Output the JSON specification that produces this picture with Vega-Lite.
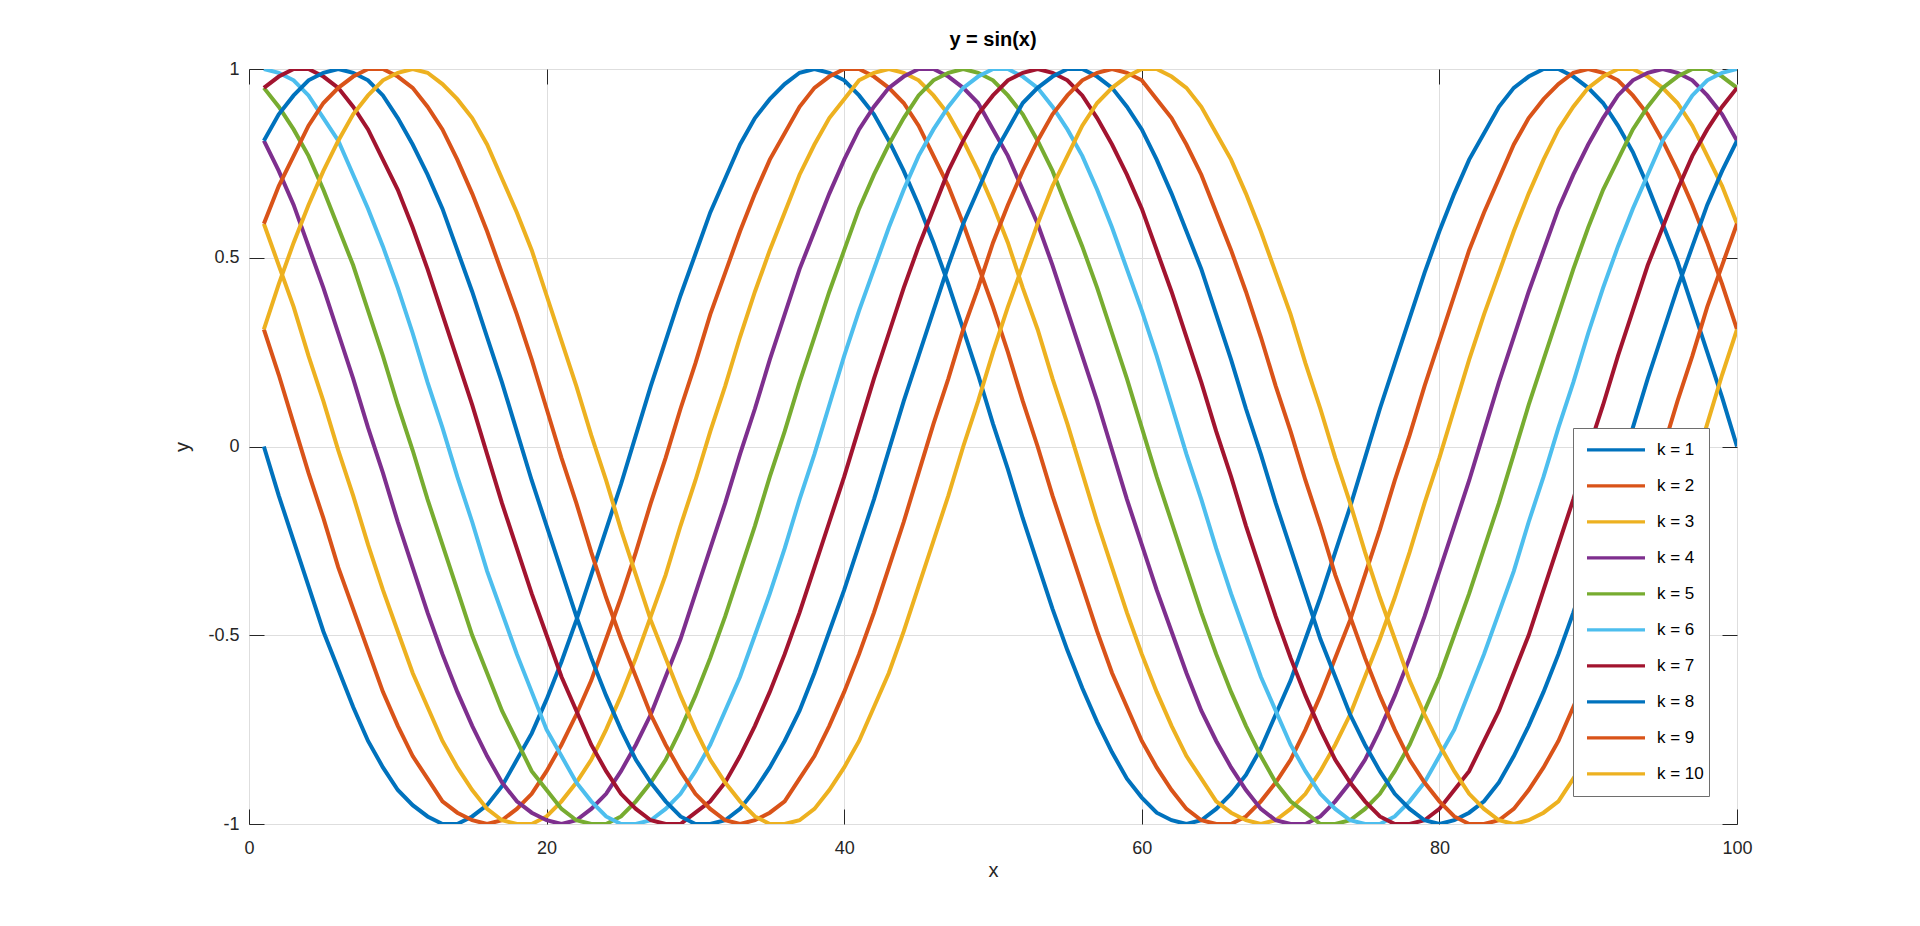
{
  "$schema": "https://vega.github.io/schema/vega-lite/v6.json",
  "width": 1488,
  "height": 755,
  "autosize": {"type": "none"},
  "padding": {"left": 249, "top": 69, "right": 183, "bottom": 102},
  "background": "#ffffff",
  "title": {"text": "y = sin(x)", "font": "Liberation Sans", "fontSize": 20, "fontWeight": "bold", "color": "#000000", "anchor": "middle", "frame": "group", "baseline": "alphabetic", "offset": 24, "dy": 30},
  "config": {"view": {"stroke": "#262626", "strokeWidth": 1}, "font": "Liberation Sans"},
  "data": {"values": [
{"k":1,"x":1,"y":0},{"k":1,"x":2,"y":-0.13},{"k":1,"x":3,"y":-0.25},{"k":1,"x":4,"y":-0.37},{"k":1,"x":5,"y":-0.49},{"k":1,"x":6,"y":-0.59},{"k":1,"x":7,"y":-0.69},{"k":1,"x":8,"y":-0.78},{"k":1,"x":9,"y":-0.85},{"k":1,"x":10,"y":-0.91},
{"k":1,"x":11,"y":-0.95},{"k":1,"x":12,"y":-0.98},{"k":1,"x":13,"y":-1},{"k":1,"x":14,"y":-1},{"k":1,"x":15,"y":-0.98},{"k":1,"x":16,"y":-0.95},{"k":1,"x":17,"y":-0.9},{"k":1,"x":18,"y":-0.83},{"k":1,"x":19,"y":-0.76},{"k":1,"x":20,"y":-0.67},
{"k":1,"x":21,"y":-0.57},{"k":1,"x":22,"y":-0.46},{"k":1,"x":23,"y":-0.34},{"k":1,"x":24,"y":-0.22},{"k":1,"x":25,"y":-0.1},{"k":1,"x":26,"y":0.03},{"k":1,"x":27,"y":0.16},{"k":1,"x":28,"y":0.28},{"k":1,"x":29,"y":0.4},{"k":1,"x":30,"y":0.51},
{"k":1,"x":31,"y":0.62},{"k":1,"x":32,"y":0.71},{"k":1,"x":33,"y":0.8},{"k":1,"x":34,"y":0.87},{"k":1,"x":35,"y":0.92},{"k":1,"x":36,"y":0.96},{"k":1,"x":37,"y":0.99},{"k":1,"x":38,"y":1},{"k":1,"x":39,"y":0.99},{"k":1,"x":40,"y":0.97},
{"k":1,"x":41,"y":0.93},{"k":1,"x":42,"y":0.88},{"k":1,"x":43,"y":0.81},{"k":1,"x":44,"y":0.73},{"k":1,"x":45,"y":0.64},{"k":1,"x":46,"y":0.54},{"k":1,"x":47,"y":0.43},{"k":1,"x":48,"y":0.31},{"k":1,"x":49,"y":0.19},{"k":1,"x":50,"y":0.06},
{"k":1,"x":51,"y":-0.06},{"k":1,"x":52,"y":-0.19},{"k":1,"x":53,"y":-0.31},{"k":1,"x":54,"y":-0.43},{"k":1,"x":55,"y":-0.54},{"k":1,"x":56,"y":-0.64},{"k":1,"x":57,"y":-0.73},{"k":1,"x":58,"y":-0.81},{"k":1,"x":59,"y":-0.88},{"k":1,"x":60,"y":-0.93},
{"k":1,"x":61,"y":-0.97},{"k":1,"x":62,"y":-0.99},{"k":1,"x":63,"y":-1},{"k":1,"x":64,"y":-0.99},{"k":1,"x":65,"y":-0.96},{"k":1,"x":66,"y":-0.92},{"k":1,"x":67,"y":-0.87},{"k":1,"x":68,"y":-0.8},{"k":1,"x":69,"y":-0.71},{"k":1,"x":70,"y":-0.62},
{"k":1,"x":71,"y":-0.51},{"k":1,"x":72,"y":-0.4},{"k":1,"x":73,"y":-0.28},{"k":1,"x":74,"y":-0.16},{"k":1,"x":75,"y":-0.03},{"k":1,"x":76,"y":0.1},{"k":1,"x":77,"y":0.22},{"k":1,"x":78,"y":0.34},{"k":1,"x":79,"y":0.46},{"k":1,"x":80,"y":0.57},
{"k":1,"x":81,"y":0.67},{"k":1,"x":82,"y":0.76},{"k":1,"x":83,"y":0.83},{"k":1,"x":84,"y":0.9},{"k":1,"x":85,"y":0.95},{"k":1,"x":86,"y":0.98},{"k":1,"x":87,"y":1},{"k":1,"x":88,"y":1},{"k":1,"x":89,"y":0.98},{"k":1,"x":90,"y":0.95},
{"k":1,"x":91,"y":0.91},{"k":1,"x":92,"y":0.85},{"k":1,"x":93,"y":0.78},{"k":1,"x":94,"y":0.69},{"k":1,"x":95,"y":0.59},{"k":1,"x":96,"y":0.49},{"k":1,"x":97,"y":0.37},{"k":1,"x":98,"y":0.25},{"k":1,"x":99,"y":0.13},{"k":1,"x":100,"y":0},
{"k":2,"x":1,"y":0.31},{"k":2,"x":2,"y":0.19},{"k":2,"x":3,"y":0.06},{"k":2,"x":4,"y":-0.07},{"k":2,"x":5,"y":-0.19},{"k":2,"x":6,"y":-0.32},{"k":2,"x":7,"y":-0.43},{"k":2,"x":8,"y":-0.54},{"k":2,"x":9,"y":-0.65},{"k":2,"x":10,"y":-0.74},
{"k":2,"x":11,"y":-0.82},{"k":2,"x":12,"y":-0.88},{"k":2,"x":13,"y":-0.94},{"k":2,"x":14,"y":-0.97},{"k":2,"x":15,"y":-0.99},{"k":2,"x":16,"y":-1},{"k":2,"x":17,"y":-0.99},{"k":2,"x":18,"y":-0.96},{"k":2,"x":19,"y":-0.92},{"k":2,"x":20,"y":-0.86},
{"k":2,"x":21,"y":-0.79},{"k":2,"x":22,"y":-0.71},{"k":2,"x":23,"y":-0.62},{"k":2,"x":24,"y":-0.51},{"k":2,"x":25,"y":-0.4},{"k":2,"x":26,"y":-0.28},{"k":2,"x":27,"y":-0.15},{"k":2,"x":28,"y":-0.03},{"k":2,"x":29,"y":0.1},{"k":2,"x":30,"y":0.22},
{"k":2,"x":31,"y":0.35},{"k":2,"x":32,"y":0.46},{"k":2,"x":33,"y":0.57},{"k":2,"x":34,"y":0.67},{"k":2,"x":35,"y":0.76},{"k":2,"x":36,"y":0.83},{"k":2,"x":37,"y":0.9},{"k":2,"x":38,"y":0.95},{"k":2,"x":39,"y":0.98},{"k":2,"x":40,"y":1},
{"k":2,"x":41,"y":1},{"k":2,"x":42,"y":0.98},{"k":2,"x":43,"y":0.95},{"k":2,"x":44,"y":0.91},{"k":2,"x":45,"y":0.85},{"k":2,"x":46,"y":0.77},{"k":2,"x":47,"y":0.69},{"k":2,"x":48,"y":0.59},{"k":2,"x":49,"y":0.48},{"k":2,"x":50,"y":0.37},
{"k":2,"x":51,"y":0.25},{"k":2,"x":52,"y":0.12},{"k":2,"x":53,"y":0},{"k":2,"x":54,"y":-0.13},{"k":2,"x":55,"y":-0.25},{"k":2,"x":56,"y":-0.37},{"k":2,"x":57,"y":-0.49},{"k":2,"x":58,"y":-0.6},{"k":2,"x":59,"y":-0.69},{"k":2,"x":60,"y":-0.78},
{"k":2,"x":61,"y":-0.85},{"k":2,"x":62,"y":-0.91},{"k":2,"x":63,"y":-0.96},{"k":2,"x":64,"y":-0.99},{"k":2,"x":65,"y":-1},{"k":2,"x":66,"y":-1},{"k":2,"x":67,"y":-0.98},{"k":2,"x":68,"y":-0.94},{"k":2,"x":69,"y":-0.89},{"k":2,"x":70,"y":-0.83},
{"k":2,"x":71,"y":-0.75},{"k":2,"x":72,"y":-0.66},{"k":2,"x":73,"y":-0.56},{"k":2,"x":74,"y":-0.46},{"k":2,"x":75,"y":-0.34},{"k":2,"x":76,"y":-0.22},{"k":2,"x":77,"y":-0.09},{"k":2,"x":78,"y":0.03},{"k":2,"x":79,"y":0.16},{"k":2,"x":80,"y":0.28},
{"k":2,"x":81,"y":0.4},{"k":2,"x":82,"y":0.52},{"k":2,"x":83,"y":0.62},{"k":2,"x":84,"y":0.71},{"k":2,"x":85,"y":0.8},{"k":2,"x":86,"y":0.87},{"k":2,"x":87,"y":0.92},{"k":2,"x":88,"y":0.96},{"k":2,"x":89,"y":0.99},{"k":2,"x":90,"y":1},
{"k":2,"x":91,"y":0.99},{"k":2,"x":92,"y":0.97},{"k":2,"x":93,"y":0.93},{"k":2,"x":94,"y":0.88},{"k":2,"x":95,"y":0.81},{"k":2,"x":96,"y":0.73},{"k":2,"x":97,"y":0.64},{"k":2,"x":98,"y":0.54},{"k":2,"x":99,"y":0.43},{"k":2,"x":100,"y":0.31},
{"k":3,"x":1,"y":0.59},{"k":3,"x":2,"y":0.48},{"k":3,"x":3,"y":0.37},{"k":3,"x":4,"y":0.24},{"k":3,"x":5,"y":0.12},{"k":3,"x":6,"y":-0.01},{"k":3,"x":7,"y":-0.13},{"k":3,"x":8,"y":-0.26},{"k":3,"x":9,"y":-0.38},{"k":3,"x":10,"y":-0.49},
{"k":3,"x":11,"y":-0.6},{"k":3,"x":12,"y":-0.69},{"k":3,"x":13,"y":-0.78},{"k":3,"x":14,"y":-0.85},{"k":3,"x":15,"y":-0.91},{"k":3,"x":16,"y":-0.96},{"k":3,"x":17,"y":-0.99},{"k":3,"x":18,"y":-1},{"k":3,"x":19,"y":-1},{"k":3,"x":20,"y":-0.98},
{"k":3,"x":21,"y":-0.94},{"k":3,"x":22,"y":-0.89},{"k":3,"x":23,"y":-0.83},{"k":3,"x":24,"y":-0.75},{"k":3,"x":25,"y":-0.66},{"k":3,"x":26,"y":-0.56},{"k":3,"x":27,"y":-0.45},{"k":3,"x":28,"y":-0.34},{"k":3,"x":29,"y":-0.21},{"k":3,"x":30,"y":-0.09},
{"k":3,"x":31,"y":0.04},{"k":3,"x":32,"y":0.16},{"k":3,"x":33,"y":0.29},{"k":3,"x":34,"y":0.41},{"k":3,"x":35,"y":0.52},{"k":3,"x":36,"y":0.62},{"k":3,"x":37,"y":0.72},{"k":3,"x":38,"y":0.8},{"k":3,"x":39,"y":0.87},{"k":3,"x":40,"y":0.92},
{"k":3,"x":41,"y":0.97},{"k":3,"x":42,"y":0.99},{"k":3,"x":43,"y":1},{"k":3,"x":44,"y":0.99},{"k":3,"x":45,"y":0.97},{"k":3,"x":46,"y":0.93},{"k":3,"x":47,"y":0.88},{"k":3,"x":48,"y":0.81},{"k":3,"x":49,"y":0.73},{"k":3,"x":50,"y":0.64},
{"k":3,"x":51,"y":0.54},{"k":3,"x":52,"y":0.42},{"k":3,"x":53,"y":0.31},{"k":3,"x":54,"y":0.18},{"k":3,"x":55,"y":0.06},{"k":3,"x":56,"y":-0.07},{"k":3,"x":57,"y":-0.2},{"k":3,"x":58,"y":-0.32},{"k":3,"x":59,"y":-0.44},{"k":3,"x":60,"y":-0.55},
{"k":3,"x":61,"y":-0.65},{"k":3,"x":62,"y":-0.74},{"k":3,"x":63,"y":-0.82},{"k":3,"x":64,"y":-0.88},{"k":3,"x":65,"y":-0.94},{"k":3,"x":66,"y":-0.97},{"k":3,"x":67,"y":-0.99},{"k":3,"x":68,"y":-1},{"k":3,"x":69,"y":-0.99},{"k":3,"x":70,"y":-0.96},
{"k":3,"x":71,"y":-0.92},{"k":3,"x":72,"y":-0.86},{"k":3,"x":73,"y":-0.79},{"k":3,"x":74,"y":-0.71},{"k":3,"x":75,"y":-0.61},{"k":3,"x":76,"y":-0.51},{"k":3,"x":77,"y":-0.4},{"k":3,"x":78,"y":-0.28},{"k":3,"x":79,"y":-0.15},{"k":3,"x":80,"y":-0.03},
{"k":3,"x":81,"y":0.1},{"k":3,"x":82,"y":0.23},{"k":3,"x":83,"y":0.35},{"k":3,"x":84,"y":0.46},{"k":3,"x":85,"y":0.57},{"k":3,"x":86,"y":0.67},{"k":3,"x":87,"y":0.76},{"k":3,"x":88,"y":0.84},{"k":3,"x":89,"y":0.9},{"k":3,"x":90,"y":0.95},
{"k":3,"x":91,"y":0.98},{"k":3,"x":92,"y":1},{"k":3,"x":93,"y":1},{"k":3,"x":94,"y":0.98},{"k":3,"x":95,"y":0.95},{"k":3,"x":96,"y":0.91},{"k":3,"x":97,"y":0.85},{"k":3,"x":98,"y":0.77},{"k":3,"x":99,"y":0.69},{"k":3,"x":100,"y":0.59},
{"k":4,"x":1,"y":0.81},{"k":4,"x":2,"y":0.73},{"k":4,"x":3,"y":0.64},{"k":4,"x":4,"y":0.53},{"k":4,"x":5,"y":0.42},{"k":4,"x":6,"y":0.3},{"k":4,"x":7,"y":0.18},{"k":4,"x":8,"y":0.05},{"k":4,"x":9,"y":-0.07},{"k":4,"x":10,"y":-0.2},
{"k":4,"x":11,"y":-0.32},{"k":4,"x":12,"y":-0.44},{"k":4,"x":13,"y":-0.55},{"k":4,"x":14,"y":-0.65},{"k":4,"x":15,"y":-0.74},{"k":4,"x":16,"y":-0.82},{"k":4,"x":17,"y":-0.89},{"k":4,"x":18,"y":-0.94},{"k":4,"x":19,"y":-0.97},{"k":4,"x":20,"y":-0.99},
{"k":4,"x":21,"y":-1},{"k":4,"x":22,"y":-0.99},{"k":4,"x":23,"y":-0.96},{"k":4,"x":24,"y":-0.92},{"k":4,"x":25,"y":-0.86},{"k":4,"x":26,"y":-0.79},{"k":4,"x":27,"y":-0.71},{"k":4,"x":28,"y":-0.61},{"k":4,"x":29,"y":-0.51},{"k":4,"x":30,"y":-0.39},
{"k":4,"x":31,"y":-0.27},{"k":4,"x":32,"y":-0.15},{"k":4,"x":33,"y":-0.02},{"k":4,"x":34,"y":0.1},{"k":4,"x":35,"y":0.23},{"k":4,"x":36,"y":0.35},{"k":4,"x":37,"y":0.47},{"k":4,"x":38,"y":0.57},{"k":4,"x":39,"y":0.67},{"k":4,"x":40,"y":0.76},
{"k":4,"x":41,"y":0.84},{"k":4,"x":42,"y":0.9},{"k":4,"x":43,"y":0.95},{"k":4,"x":44,"y":0.98},{"k":4,"x":45,"y":1},{"k":4,"x":46,"y":1},{"k":4,"x":47,"y":0.98},{"k":4,"x":48,"y":0.95},{"k":4,"x":49,"y":0.91},{"k":4,"x":50,"y":0.84},
{"k":4,"x":51,"y":0.77},{"k":4,"x":52,"y":0.68},{"k":4,"x":53,"y":0.59},{"k":4,"x":54,"y":0.48},{"k":4,"x":55,"y":0.36},{"k":4,"x":56,"y":0.24},{"k":4,"x":57,"y":0.12},{"k":4,"x":58,"y":-0.01},{"k":4,"x":59,"y":-0.14},{"k":4,"x":60,"y":-0.26},
{"k":4,"x":61,"y":-0.38},{"k":4,"x":62,"y":-0.49},{"k":4,"x":63,"y":-0.6},{"k":4,"x":64,"y":-0.7},{"k":4,"x":65,"y":-0.78},{"k":4,"x":66,"y":-0.85},{"k":4,"x":67,"y":-0.91},{"k":4,"x":68,"y":-0.96},{"k":4,"x":69,"y":-0.99},{"k":4,"x":70,"y":-1},
{"k":4,"x":71,"y":-1},{"k":4,"x":72,"y":-0.98},{"k":4,"x":73,"y":-0.94},{"k":4,"x":74,"y":-0.89},{"k":4,"x":75,"y":-0.83},{"k":4,"x":76,"y":-0.75},{"k":4,"x":77,"y":-0.66},{"k":4,"x":78,"y":-0.56},{"k":4,"x":79,"y":-0.45},{"k":4,"x":80,"y":-0.33},
{"k":4,"x":81,"y":-0.21},{"k":4,"x":82,"y":-0.09},{"k":4,"x":83,"y":0.04},{"k":4,"x":84,"y":0.17},{"k":4,"x":85,"y":0.29},{"k":4,"x":86,"y":0.41},{"k":4,"x":87,"y":0.52},{"k":4,"x":88,"y":0.63},{"k":4,"x":89,"y":0.72},{"k":4,"x":90,"y":0.8},
{"k":4,"x":91,"y":0.87},{"k":4,"x":92,"y":0.93},{"k":4,"x":93,"y":0.97},{"k":4,"x":94,"y":0.99},{"k":4,"x":95,"y":1},{"k":4,"x":96,"y":0.99},{"k":4,"x":97,"y":0.97},{"k":4,"x":98,"y":0.93},{"k":4,"x":99,"y":0.88},{"k":4,"x":100,"y":0.81},
{"k":5,"x":1,"y":0.95},{"k":5,"x":2,"y":0.9},{"k":5,"x":3,"y":0.84},{"k":5,"x":4,"y":0.77},{"k":5,"x":5,"y":0.68},{"k":5,"x":6,"y":0.58},{"k":5,"x":7,"y":0.48},{"k":5,"x":8,"y":0.36},{"k":5,"x":9,"y":0.24},{"k":5,"x":10,"y":0.11},
{"k":5,"x":11,"y":-0.01},{"k":5,"x":12,"y":-0.14},{"k":5,"x":13,"y":-0.26},{"k":5,"x":14,"y":-0.38},{"k":5,"x":15,"y":-0.5},{"k":5,"x":16,"y":-0.6},{"k":5,"x":17,"y":-0.7},{"k":5,"x":18,"y":-0.78},{"k":5,"x":19,"y":-0.86},{"k":5,"x":20,"y":-0.91},
{"k":5,"x":21,"y":-0.96},{"k":5,"x":22,"y":-0.99},{"k":5,"x":23,"y":-1},{"k":5,"x":24,"y":-1},{"k":5,"x":25,"y":-0.98},{"k":5,"x":26,"y":-0.94},{"k":5,"x":27,"y":-0.89},{"k":5,"x":28,"y":-0.83},{"k":5,"x":29,"y":-0.75},{"k":5,"x":30,"y":-0.66},
{"k":5,"x":31,"y":-0.56},{"k":5,"x":32,"y":-0.45},{"k":5,"x":33,"y":-0.33},{"k":5,"x":34,"y":-0.21},{"k":5,"x":35,"y":-0.08},{"k":5,"x":36,"y":0.04},{"k":5,"x":37,"y":0.17},{"k":5,"x":38,"y":0.29},{"k":5,"x":39,"y":0.41},{"k":5,"x":40,"y":0.52},
{"k":5,"x":41,"y":0.63},{"k":5,"x":42,"y":0.72},{"k":5,"x":43,"y":0.8},{"k":5,"x":44,"y":0.87},{"k":5,"x":45,"y":0.93},{"k":5,"x":46,"y":0.97},{"k":5,"x":47,"y":0.99},{"k":5,"x":48,"y":1},{"k":5,"x":49,"y":0.99},{"k":5,"x":50,"y":0.97},
{"k":5,"x":51,"y":0.93},{"k":5,"x":52,"y":0.88},{"k":5,"x":53,"y":0.81},{"k":5,"x":54,"y":0.73},{"k":5,"x":55,"y":0.63},{"k":5,"x":56,"y":0.53},{"k":5,"x":57,"y":0.42},{"k":5,"x":58,"y":0.3},{"k":5,"x":59,"y":0.18},{"k":5,"x":60,"y":0.05},
{"k":5,"x":61,"y":-0.08},{"k":5,"x":62,"y":-0.2},{"k":5,"x":63,"y":-0.32},{"k":5,"x":64,"y":-0.44},{"k":5,"x":65,"y":-0.55},{"k":5,"x":66,"y":-0.65},{"k":5,"x":67,"y":-0.74},{"k":5,"x":68,"y":-0.82},{"k":5,"x":69,"y":-0.89},{"k":5,"x":70,"y":-0.94},
{"k":5,"x":71,"y":-0.97},{"k":5,"x":72,"y":-1},{"k":5,"x":73,"y":-1},{"k":5,"x":74,"y":-0.99},{"k":5,"x":75,"y":-0.96},{"k":5,"x":76,"y":-0.92},{"k":5,"x":77,"y":-0.86},{"k":5,"x":78,"y":-0.79},{"k":5,"x":79,"y":-0.7},{"k":5,"x":80,"y":-0.61},
{"k":5,"x":81,"y":-0.5},{"k":5,"x":82,"y":-0.39},{"k":5,"x":83,"y":-0.27},{"k":5,"x":84,"y":-0.15},{"k":5,"x":85,"y":-0.02},{"k":5,"x":86,"y":0.11},{"k":5,"x":87,"y":0.23},{"k":5,"x":88,"y":0.35},{"k":5,"x":89,"y":0.47},{"k":5,"x":90,"y":0.58},
{"k":5,"x":91,"y":0.68},{"k":5,"x":92,"y":0.76},{"k":5,"x":93,"y":0.84},{"k":5,"x":94,"y":0.9},{"k":5,"x":95,"y":0.95},{"k":5,"x":96,"y":0.98},{"k":5,"x":97,"y":1},{"k":5,"x":98,"y":1},{"k":5,"x":99,"y":0.98},{"k":5,"x":100,"y":0.95},
{"k":6,"x":1,"y":1},{"k":6,"x":2,"y":0.99},{"k":6,"x":3,"y":0.97},{"k":6,"x":4,"y":0.93},{"k":6,"x":5,"y":0.87},{"k":6,"x":6,"y":0.81},{"k":6,"x":7,"y":0.72},{"k":6,"x":8,"y":0.63},{"k":6,"x":9,"y":0.53},{"k":6,"x":10,"y":0.42},
{"k":6,"x":11,"y":0.3},{"k":6,"x":12,"y":0.17},{"k":6,"x":13,"y":0.05},{"k":6,"x":14,"y":-0.08},{"k":6,"x":15,"y":-0.2},{"k":6,"x":16,"y":-0.33},{"k":6,"x":17,"y":-0.44},{"k":6,"x":18,"y":-0.55},{"k":6,"x":19,"y":-0.65},{"k":6,"x":20,"y":-0.75},
{"k":6,"x":21,"y":-0.82},{"k":6,"x":22,"y":-0.89},{"k":6,"x":23,"y":-0.94},{"k":6,"x":24,"y":-0.98},{"k":6,"x":25,"y":-1},{"k":6,"x":26,"y":-1},{"k":6,"x":27,"y":-0.99},{"k":6,"x":28,"y":-0.96},{"k":6,"x":29,"y":-0.92},{"k":6,"x":30,"y":-0.86},
{"k":6,"x":31,"y":-0.79},{"k":6,"x":32,"y":-0.7},{"k":6,"x":33,"y":-0.61},{"k":6,"x":34,"y":-0.5},{"k":6,"x":35,"y":-0.39},{"k":6,"x":36,"y":-0.27},{"k":6,"x":37,"y":-0.14},{"k":6,"x":38,"y":-0.02},{"k":6,"x":39,"y":0.11},{"k":6,"x":40,"y":0.24},
{"k":6,"x":41,"y":0.36},{"k":6,"x":42,"y":0.47},{"k":6,"x":43,"y":0.58},{"k":6,"x":44,"y":0.68},{"k":6,"x":45,"y":0.77},{"k":6,"x":46,"y":0.84},{"k":6,"x":47,"y":0.9},{"k":6,"x":48,"y":0.95},{"k":6,"x":49,"y":0.98},{"k":6,"x":50,"y":1},
{"k":6,"x":51,"y":1},{"k":6,"x":52,"y":0.98},{"k":6,"x":53,"y":0.95},{"k":6,"x":54,"y":0.9},{"k":6,"x":55,"y":0.84},{"k":6,"x":56,"y":0.77},{"k":6,"x":57,"y":0.68},{"k":6,"x":58,"y":0.58},{"k":6,"x":59,"y":0.47},{"k":6,"x":60,"y":0.36},
{"k":6,"x":61,"y":0.24},{"k":6,"x":62,"y":0.11},{"k":6,"x":63,"y":-0.02},{"k":6,"x":64,"y":-0.14},{"k":6,"x":65,"y":-0.27},{"k":6,"x":66,"y":-0.39},{"k":6,"x":67,"y":-0.5},{"k":6,"x":68,"y":-0.61},{"k":6,"x":69,"y":-0.7},{"k":6,"x":70,"y":-0.79},
{"k":6,"x":71,"y":-0.86},{"k":6,"x":72,"y":-0.92},{"k":6,"x":73,"y":-0.96},{"k":6,"x":74,"y":-0.99},{"k":6,"x":75,"y":-1},{"k":6,"x":76,"y":-1},{"k":6,"x":77,"y":-0.98},{"k":6,"x":78,"y":-0.94},{"k":6,"x":79,"y":-0.89},{"k":6,"x":80,"y":-0.82},
{"k":6,"x":81,"y":-0.75},{"k":6,"x":82,"y":-0.65},{"k":6,"x":83,"y":-0.55},{"k":6,"x":84,"y":-0.44},{"k":6,"x":85,"y":-0.33},{"k":6,"x":86,"y":-0.2},{"k":6,"x":87,"y":-0.08},{"k":6,"x":88,"y":0.05},{"k":6,"x":89,"y":0.17},{"k":6,"x":90,"y":0.3},
{"k":6,"x":91,"y":0.42},{"k":6,"x":92,"y":0.53},{"k":6,"x":93,"y":0.63},{"k":6,"x":94,"y":0.72},{"k":6,"x":95,"y":0.81},{"k":6,"x":96,"y":0.87},{"k":6,"x":97,"y":0.93},{"k":6,"x":98,"y":0.97},{"k":6,"x":99,"y":0.99},{"k":6,"x":100,"y":1},
{"k":7,"x":1,"y":0.95},{"k":7,"x":2,"y":0.98},{"k":7,"x":3,"y":1},{"k":7,"x":4,"y":1},{"k":7,"x":5,"y":0.98},{"k":7,"x":6,"y":0.95},{"k":7,"x":7,"y":0.9},{"k":7,"x":8,"y":0.84},{"k":7,"x":9,"y":0.76},{"k":7,"x":10,"y":0.68},
{"k":7,"x":11,"y":0.58},{"k":7,"x":12,"y":0.47},{"k":7,"x":13,"y":0.35},{"k":7,"x":14,"y":0.23},{"k":7,"x":15,"y":0.11},{"k":7,"x":16,"y":-0.02},{"k":7,"x":17,"y":-0.15},{"k":7,"x":18,"y":-0.27},{"k":7,"x":19,"y":-0.39},{"k":7,"x":20,"y":-0.5},
{"k":7,"x":21,"y":-0.61},{"k":7,"x":22,"y":-0.7},{"k":7,"x":23,"y":-0.79},{"k":7,"x":24,"y":-0.86},{"k":7,"x":25,"y":-0.92},{"k":7,"x":26,"y":-0.96},{"k":7,"x":27,"y":-0.99},{"k":7,"x":28,"y":-1},{"k":7,"x":29,"y":-1},{"k":7,"x":30,"y":-0.97},
{"k":7,"x":31,"y":-0.94},{"k":7,"x":32,"y":-0.89},{"k":7,"x":33,"y":-0.82},{"k":7,"x":34,"y":-0.74},{"k":7,"x":35,"y":-0.65},{"k":7,"x":36,"y":-0.55},{"k":7,"x":37,"y":-0.44},{"k":7,"x":38,"y":-0.32},{"k":7,"x":39,"y":-0.2},{"k":7,"x":40,"y":-0.08},
{"k":7,"x":41,"y":0.05},{"k":7,"x":42,"y":0.18},{"k":7,"x":43,"y":0.3},{"k":7,"x":44,"y":0.42},{"k":7,"x":45,"y":0.53},{"k":7,"x":46,"y":0.63},{"k":7,"x":47,"y":0.73},{"k":7,"x":48,"y":0.81},{"k":7,"x":49,"y":0.88},{"k":7,"x":50,"y":0.93},
{"k":7,"x":51,"y":0.97},{"k":7,"x":52,"y":0.99},{"k":7,"x":53,"y":1},{"k":7,"x":54,"y":0.99},{"k":7,"x":55,"y":0.97},{"k":7,"x":56,"y":0.93},{"k":7,"x":57,"y":0.87},{"k":7,"x":58,"y":0.8},{"k":7,"x":59,"y":0.72},{"k":7,"x":60,"y":0.63},
{"k":7,"x":61,"y":0.52},{"k":7,"x":62,"y":0.41},{"k":7,"x":63,"y":0.29},{"k":7,"x":64,"y":0.17},{"k":7,"x":65,"y":0.04},{"k":7,"x":66,"y":-0.08},{"k":7,"x":67,"y":-0.21},{"k":7,"x":68,"y":-0.33},{"k":7,"x":69,"y":-0.45},{"k":7,"x":70,"y":-0.56},
{"k":7,"x":71,"y":-0.66},{"k":7,"x":72,"y":-0.75},{"k":7,"x":73,"y":-0.83},{"k":7,"x":74,"y":-0.89},{"k":7,"x":75,"y":-0.94},{"k":7,"x":76,"y":-0.98},{"k":7,"x":77,"y":-1},{"k":7,"x":78,"y":-1},{"k":7,"x":79,"y":-0.99},{"k":7,"x":80,"y":-0.96},
{"k":7,"x":81,"y":-0.91},{"k":7,"x":82,"y":-0.86},{"k":7,"x":83,"y":-0.78},{"k":7,"x":84,"y":-0.7},{"k":7,"x":85,"y":-0.6},{"k":7,"x":86,"y":-0.5},{"k":7,"x":87,"y":-0.38},{"k":7,"x":88,"y":-0.26},{"k":7,"x":89,"y":-0.14},{"k":7,"x":90,"y":-0.01},
{"k":7,"x":91,"y":0.11},{"k":7,"x":92,"y":0.24},{"k":7,"x":93,"y":0.36},{"k":7,"x":94,"y":0.48},{"k":7,"x":95,"y":0.58},{"k":7,"x":96,"y":0.68},{"k":7,"x":97,"y":0.77},{"k":7,"x":98,"y":0.84},{"k":7,"x":99,"y":0.9},{"k":7,"x":100,"y":0.95},
{"k":8,"x":1,"y":0.81},{"k":8,"x":2,"y":0.88},{"k":8,"x":3,"y":0.93},{"k":8,"x":4,"y":0.97},{"k":8,"x":5,"y":0.99},{"k":8,"x":6,"y":1},{"k":8,"x":7,"y":0.99},{"k":8,"x":8,"y":0.97},{"k":8,"x":9,"y":0.93},{"k":8,"x":10,"y":0.87},
{"k":8,"x":11,"y":0.8},{"k":8,"x":12,"y":0.72},{"k":8,"x":13,"y":0.63},{"k":8,"x":14,"y":0.52},{"k":8,"x":15,"y":0.41},{"k":8,"x":16,"y":0.29},{"k":8,"x":17,"y":0.17},{"k":8,"x":18,"y":0.04},{"k":8,"x":19,"y":-0.09},{"k":8,"x":20,"y":-0.21},
{"k":8,"x":21,"y":-0.33},{"k":8,"x":22,"y":-0.45},{"k":8,"x":23,"y":-0.56},{"k":8,"x":24,"y":-0.66},{"k":8,"x":25,"y":-0.75},{"k":8,"x":26,"y":-0.83},{"k":8,"x":27,"y":-0.89},{"k":8,"x":28,"y":-0.94},{"k":8,"x":29,"y":-0.98},{"k":8,"x":30,"y":-1},
{"k":8,"x":31,"y":-1},{"k":8,"x":32,"y":-0.99},{"k":8,"x":33,"y":-0.96},{"k":8,"x":34,"y":-0.91},{"k":8,"x":35,"y":-0.85},{"k":8,"x":36,"y":-0.78},{"k":8,"x":37,"y":-0.7},{"k":8,"x":38,"y":-0.6},{"k":8,"x":39,"y":-0.49},{"k":8,"x":40,"y":-0.38},
{"k":8,"x":41,"y":-0.26},{"k":8,"x":42,"y":-0.14},{"k":8,"x":43,"y":-0.01},{"k":8,"x":44,"y":0.12},{"k":8,"x":45,"y":0.24},{"k":8,"x":46,"y":0.36},{"k":8,"x":47,"y":0.48},{"k":8,"x":48,"y":0.59},{"k":8,"x":49,"y":0.68},{"k":8,"x":50,"y":0.77},
{"k":8,"x":51,"y":0.84},{"k":8,"x":52,"y":0.91},{"k":8,"x":53,"y":0.95},{"k":8,"x":54,"y":0.98},{"k":8,"x":55,"y":1},{"k":8,"x":56,"y":1},{"k":8,"x":57,"y":0.98},{"k":8,"x":58,"y":0.95},{"k":8,"x":59,"y":0.9},{"k":8,"x":60,"y":0.84},
{"k":8,"x":61,"y":0.76},{"k":8,"x":62,"y":0.67},{"k":8,"x":63,"y":0.57},{"k":8,"x":64,"y":0.47},{"k":8,"x":65,"y":0.35},{"k":8,"x":66,"y":0.23},{"k":8,"x":67,"y":0.1},{"k":8,"x":68,"y":-0.02},{"k":8,"x":69,"y":-0.15},{"k":8,"x":70,"y":-0.27},
{"k":8,"x":71,"y":-0.39},{"k":8,"x":72,"y":-0.51},{"k":8,"x":73,"y":-0.61},{"k":8,"x":74,"y":-0.71},{"k":8,"x":75,"y":-0.79},{"k":8,"x":76,"y":-0.86},{"k":8,"x":77,"y":-0.92},{"k":8,"x":78,"y":-0.96},{"k":8,"x":79,"y":-0.99},{"k":8,"x":80,"y":-1},
{"k":8,"x":81,"y":-0.99},{"k":8,"x":82,"y":-0.97},{"k":8,"x":83,"y":-0.94},{"k":8,"x":84,"y":-0.89},{"k":8,"x":85,"y":-0.82},{"k":8,"x":86,"y":-0.74},{"k":8,"x":87,"y":-0.65},{"k":8,"x":88,"y":-0.55},{"k":8,"x":89,"y":-0.44},{"k":8,"x":90,"y":-0.32},
{"k":8,"x":91,"y":-0.2},{"k":8,"x":92,"y":-0.07},{"k":8,"x":93,"y":0.05},{"k":8,"x":94,"y":0.18},{"k":8,"x":95,"y":0.3},{"k":8,"x":96,"y":0.42},{"k":8,"x":97,"y":0.53},{"k":8,"x":98,"y":0.64},{"k":8,"x":99,"y":0.73},{"k":8,"x":100,"y":0.81},
{"k":9,"x":1,"y":0.59},{"k":9,"x":2,"y":0.69},{"k":9,"x":3,"y":0.77},{"k":9,"x":4,"y":0.85},{"k":9,"x":5,"y":0.91},{"k":9,"x":6,"y":0.95},{"k":9,"x":7,"y":0.98},{"k":9,"x":8,"y":1},{"k":9,"x":9,"y":1},{"k":9,"x":10,"y":0.98},
{"k":9,"x":11,"y":0.95},{"k":9,"x":12,"y":0.9},{"k":9,"x":13,"y":0.84},{"k":9,"x":14,"y":0.76},{"k":9,"x":15,"y":0.67},{"k":9,"x":16,"y":0.57},{"k":9,"x":17,"y":0.46},{"k":9,"x":18,"y":0.35},{"k":9,"x":19,"y":0.23},{"k":9,"x":20,"y":0.1},
{"k":9,"x":21,"y":-0.03},{"k":9,"x":22,"y":-0.15},{"k":9,"x":23,"y":-0.28},{"k":9,"x":24,"y":-0.4},{"k":9,"x":25,"y":-0.51},{"k":9,"x":26,"y":-0.61},{"k":9,"x":27,"y":-0.71},{"k":9,"x":28,"y":-0.79},{"k":9,"x":29,"y":-0.86},{"k":9,"x":30,"y":-0.92},
{"k":9,"x":31,"y":-0.96},{"k":9,"x":32,"y":-0.99},{"k":9,"x":33,"y":-1},{"k":9,"x":34,"y":-0.99},{"k":9,"x":35,"y":-0.97},{"k":9,"x":36,"y":-0.94},{"k":9,"x":37,"y":-0.88},{"k":9,"x":38,"y":-0.82},{"k":9,"x":39,"y":-0.74},{"k":9,"x":40,"y":-0.65},
{"k":9,"x":41,"y":-0.55},{"k":9,"x":42,"y":-0.44},{"k":9,"x":43,"y":-0.32},{"k":9,"x":44,"y":-0.2},{"k":9,"x":45,"y":-0.07},{"k":9,"x":46,"y":0.06},{"k":9,"x":47,"y":0.18},{"k":9,"x":48,"y":0.31},{"k":9,"x":49,"y":0.42},{"k":9,"x":50,"y":0.54},
{"k":9,"x":51,"y":0.64},{"k":9,"x":52,"y":0.73},{"k":9,"x":53,"y":0.81},{"k":9,"x":54,"y":0.88},{"k":9,"x":55,"y":0.93},{"k":9,"x":56,"y":0.97},{"k":9,"x":57,"y":0.99},{"k":9,"x":58,"y":1},{"k":9,"x":59,"y":0.99},{"k":9,"x":60,"y":0.97},
{"k":9,"x":61,"y":0.92},{"k":9,"x":62,"y":0.87},{"k":9,"x":63,"y":0.8},{"k":9,"x":64,"y":0.72},{"k":9,"x":65,"y":0.62},{"k":9,"x":66,"y":0.52},{"k":9,"x":67,"y":0.41},{"k":9,"x":68,"y":0.29},{"k":9,"x":69,"y":0.16},{"k":9,"x":70,"y":0.04},
{"k":9,"x":71,"y":-0.09},{"k":9,"x":72,"y":-0.21},{"k":9,"x":73,"y":-0.34},{"k":9,"x":74,"y":-0.45},{"k":9,"x":75,"y":-0.56},{"k":9,"x":76,"y":-0.66},{"k":9,"x":77,"y":-0.75},{"k":9,"x":78,"y":-0.83},{"k":9,"x":79,"y":-0.89},{"k":9,"x":80,"y":-0.94},
{"k":9,"x":81,"y":-0.98},{"k":9,"x":82,"y":-1},{"k":9,"x":83,"y":-1},{"k":9,"x":84,"y":-0.99},{"k":9,"x":85,"y":-0.96},{"k":9,"x":86,"y":-0.91},{"k":9,"x":87,"y":-0.85},{"k":9,"x":88,"y":-0.78},{"k":9,"x":89,"y":-0.69},{"k":9,"x":90,"y":-0.6},
{"k":9,"x":91,"y":-0.49},{"k":9,"x":92,"y":-0.38},{"k":9,"x":93,"y":-0.26},{"k":9,"x":94,"y":-0.13},{"k":9,"x":95,"y":-0.01},{"k":9,"x":96,"y":0.12},{"k":9,"x":97,"y":0.24},{"k":9,"x":98,"y":0.37},{"k":9,"x":99,"y":0.48},{"k":9,"x":100,"y":0.59},
{"k":10,"x":1,"y":0.31},{"k":10,"x":2,"y":0.43},{"k":10,"x":3,"y":0.54},{"k":10,"x":4,"y":0.64},{"k":10,"x":5,"y":0.73},{"k":10,"x":6,"y":0.81},{"k":10,"x":7,"y":0.88},{"k":10,"x":8,"y":0.93},{"k":10,"x":9,"y":0.97},{"k":10,"x":10,"y":0.99},
{"k":10,"x":11,"y":1},{"k":10,"x":12,"y":0.99},{"k":10,"x":13,"y":0.96},{"k":10,"x":14,"y":0.92},{"k":10,"x":15,"y":0.87},{"k":10,"x":16,"y":0.8},{"k":10,"x":17,"y":0.71},{"k":10,"x":18,"y":0.62},{"k":10,"x":19,"y":0.52},{"k":10,"x":20,"y":0.4},
{"k":10,"x":21,"y":0.28},{"k":10,"x":22,"y":0.16},{"k":10,"x":23,"y":0.03},{"k":10,"x":24,"y":-0.09},{"k":10,"x":25,"y":-0.22},{"k":10,"x":26,"y":-0.34},{"k":10,"x":27,"y":-0.46},{"k":10,"x":28,"y":-0.56},{"k":10,"x":29,"y":-0.66},{"k":10,"x":30,"y":-0.75},
{"k":10,"x":31,"y":-0.83},{"k":10,"x":32,"y":-0.89},{"k":10,"x":33,"y":-0.94},{"k":10,"x":34,"y":-0.98},{"k":10,"x":35,"y":-1},{"k":10,"x":36,"y":-1},{"k":10,"x":37,"y":-0.99},{"k":10,"x":38,"y":-0.96},{"k":10,"x":39,"y":-0.91},{"k":10,"x":40,"y":-0.85},
{"k":10,"x":41,"y":-0.78},{"k":10,"x":42,"y":-0.69},{"k":10,"x":43,"y":-0.6},{"k":10,"x":44,"y":-0.49},{"k":10,"x":45,"y":-0.37},{"k":10,"x":46,"y":-0.25},{"k":10,"x":47,"y":-0.13},{"k":10,"x":48,"y":0},{"k":10,"x":49,"y":0.12},{"k":10,"x":50,"y":0.25},
{"k":10,"x":51,"y":0.37},{"k":10,"x":52,"y":0.48},{"k":10,"x":53,"y":0.59},{"k":10,"x":54,"y":0.69},{"k":10,"x":55,"y":0.77},{"k":10,"x":56,"y":0.85},{"k":10,"x":57,"y":0.91},{"k":10,"x":58,"y":0.95},{"k":10,"x":59,"y":0.98},{"k":10,"x":60,"y":1},
{"k":10,"x":61,"y":1},{"k":10,"x":62,"y":0.98},{"k":10,"x":63,"y":0.95},{"k":10,"x":64,"y":0.9},{"k":10,"x":65,"y":0.83},{"k":10,"x":66,"y":0.76},{"k":10,"x":67,"y":0.67},{"k":10,"x":68,"y":0.57},{"k":10,"x":69,"y":0.46},{"k":10,"x":70,"y":0.35},
{"k":10,"x":71,"y":0.22},{"k":10,"x":72,"y":0.1},{"k":10,"x":73,"y":-0.03},{"k":10,"x":74,"y":-0.15},{"k":10,"x":75,"y":-0.28},{"k":10,"x":76,"y":-0.4},{"k":10,"x":77,"y":-0.51},{"k":10,"x":78,"y":-0.62},{"k":10,"x":79,"y":-0.71},{"k":10,"x":80,"y":-0.79},
{"k":10,"x":81,"y":-0.86},{"k":10,"x":82,"y":-0.92},{"k":10,"x":83,"y":-0.96},{"k":10,"x":84,"y":-0.99},{"k":10,"x":85,"y":-1},{"k":10,"x":86,"y":-0.99},{"k":10,"x":87,"y":-0.97},{"k":10,"x":88,"y":-0.94},{"k":10,"x":89,"y":-0.88},{"k":10,"x":90,"y":-0.82},
{"k":10,"x":91,"y":-0.74},{"k":10,"x":92,"y":-0.65},{"k":10,"x":93,"y":-0.54},{"k":10,"x":94,"y":-0.43},{"k":10,"x":95,"y":-0.32},{"k":10,"x":96,"y":-0.19},{"k":10,"x":97,"y":-0.07},{"k":10,"x":98,"y":0.06},{"k":10,"x":99,"y":0.19},{"k":10,"x":100,"y":0.31}
  ]},
  "layer": [
    {
      "mark": {"type": "line", "strokeWidth": 4, "clip": true},
      "encoding": {
        "x": {
          "field": "x", "type": "quantitative",
          "scale": {"domain": [0, 100], "nice": false, "zero": false},
          "axis": {"orient": "bottom", "values": [0, 20, 40, 60, 80, 100], "grid": true, "gridColor": "#dedede", "gridWidth": 1,
            "domain": false, "ticks": true, "tickSize": -15, "tickColor": "#262626", "tickWidth": 1,
            "labelPadding": 30, "labelFont": "Liberation Sans", "labelFontSize": 18, "labelColor": "#262626", "labelFlush": false, "labelOverlap": false,
            "title": "x", "titleFont": "Liberation Sans", "titleFontSize": 20, "titleFontWeight": "normal", "titleColor": "#262626", "titlePadding": 3}
        },
        "y": {
          "field": "y", "type": "quantitative",
          "scale": {"domain": [-1, 1], "nice": false, "zero": false},
          "axis": {"orient": "left", "values": [-1, -0.5, 0, 0.5, 1], "grid": true, "gridColor": "#dedede", "gridWidth": 1,
            "domain": false, "ticks": true, "tickSize": -15, "tickColor": "#262626", "tickWidth": 1,
            "labelPadding": 25, "labelFont": "Liberation Sans", "labelFontSize": 18, "labelColor": "#262626", "labelFlush": false, "labelOverlap": false,
            "labelExpr": "datum.value == 0 ? '0' : (datum.value < 0 ? '-' : '') + abs(datum.value)",
            "title": "y", "titleFont": "Liberation Sans", "titleFontSize": 20, "titleFontWeight": "normal", "titleColor": "#262626", "titlePadding": 15}
        },
        "color": {
          "field": "k", "type": "nominal",
          "scale": {"range": ["#0072BD", "#D95319", "#EDB120", "#7E2F8E", "#77AC30", "#4DBEEE", "#A2142F", "#0072BD", "#D95319", "#EDB120"]},
          "legend": {"orient": "none", "legendX": 1324, "legendY": 359, "title": null,
            "symbolType": "stroke", "symbolSize": 3364, "symbolStrokeWidth": 3.4, "symbolOffset": 7,
            "clipHeight": 33.65, "rowPadding": 2, "padding": 5,
            "labelOffset": 10, "labelFont": "Liberation Sans", "labelFontSize": 17, "labelColor": "#000000",
            "labelExpr": "'k = ' + datum.label",
            "fillColor": "#ffffff", "strokeColor": "#6e6e6e"}
        }
      }
    },
    {
      "mark": {"type": "point", "opacity": 0},
      "encoding": {
        "x": {"field": "x", "type": "quantitative",
          "axis": {"orient": "top", "values": [0, 20, 40, 60, 80, 100], "grid": false, "domain": false, "labels": false,
            "ticks": true, "tickSize": -15, "tickColor": "#262626", "tickWidth": 1, "title": null}},
        "y": {"field": "y", "type": "quantitative",
          "axis": {"orient": "right", "values": [-1, -0.5, 0, 0.5, 1], "grid": false, "domain": false, "labels": false,
            "ticks": true, "tickSize": -15, "tickColor": "#262626", "tickWidth": 1, "title": null}}
      }
    }
  ],
  "resolve": {"axis": {"x": "independent", "y": "independent"}}
}
